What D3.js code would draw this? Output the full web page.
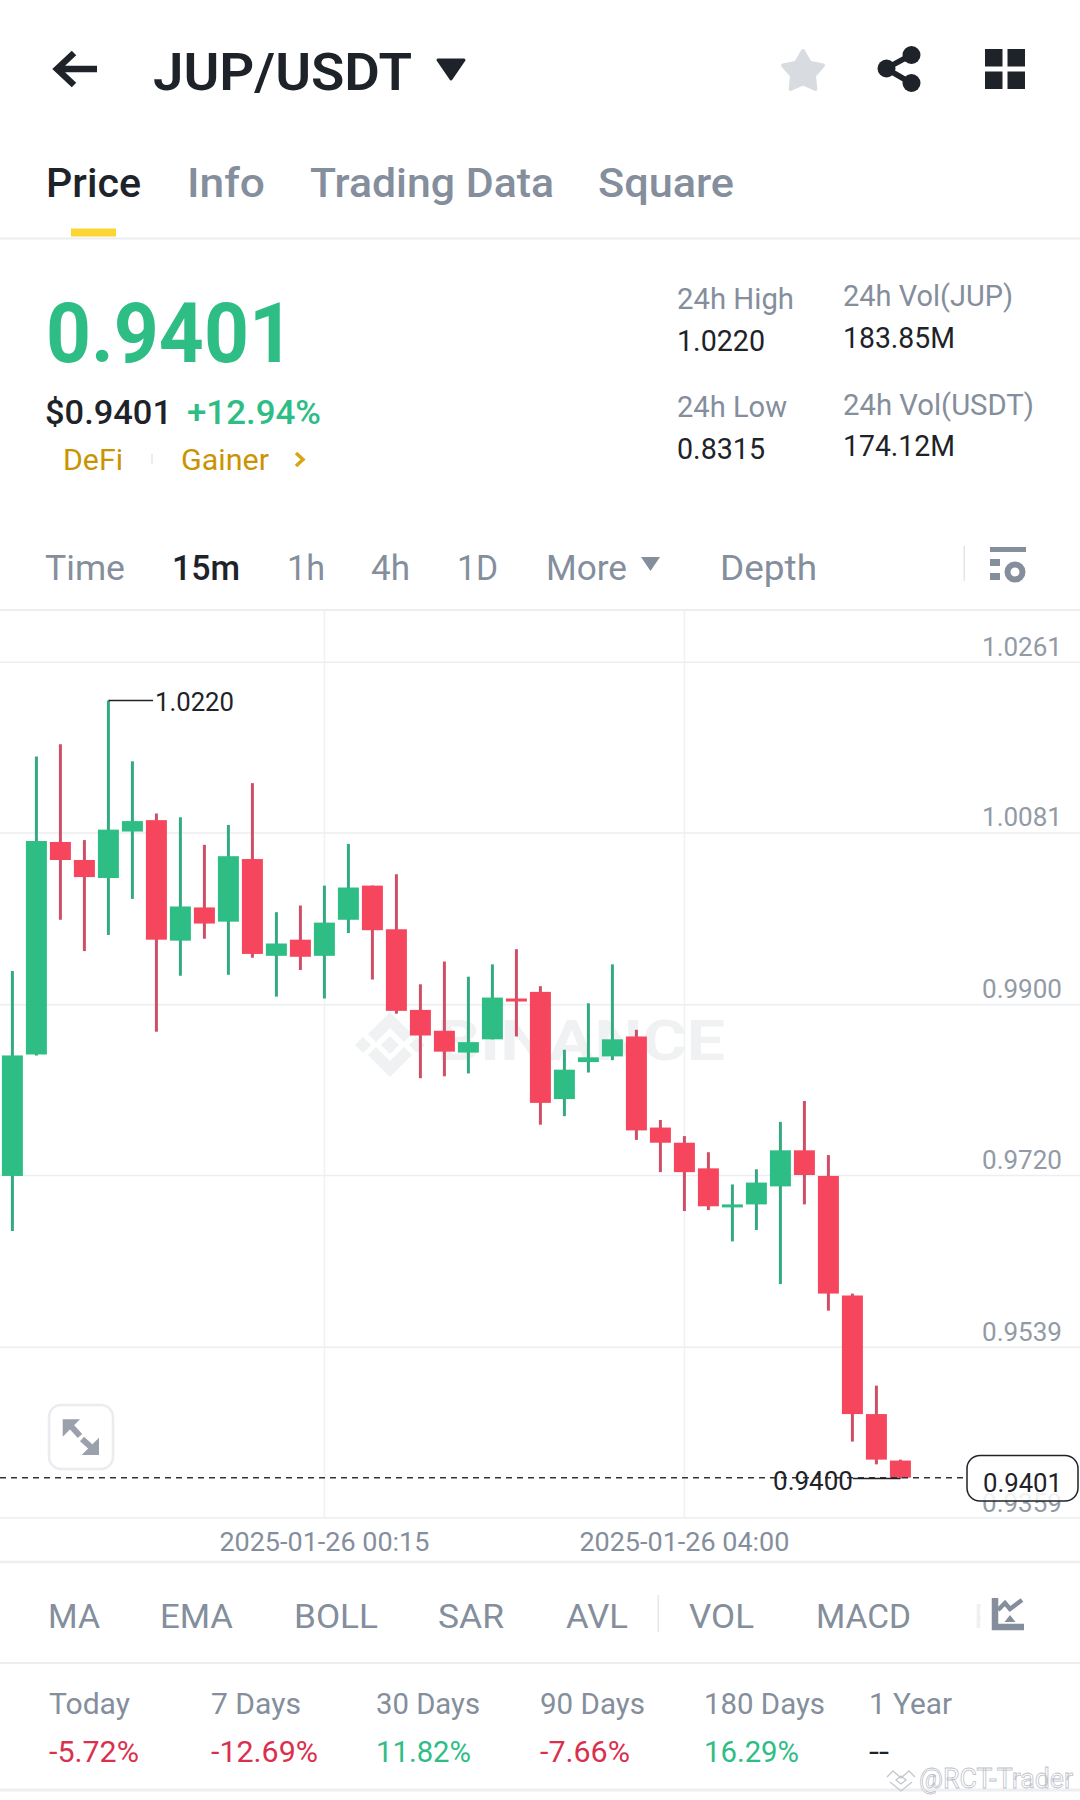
<!DOCTYPE html>
<html>
<head>
<meta charset="utf-8">
<script src="https://cdn.jsdelivr.net/npm/d3@7"></script>
<style>
  html, body { margin: 0; padding: 0; background: #fff; overflow: hidden; }
  text { font-family: Roboto, "Noto Sans", sans-serif; }
</style>
</head>
<body>
<div id="chart"></div>
<script>
// 15m candles, 2025-01-25 21:00 onwards
var opens  = [0.9719,0.9847,1.0071,1.0052,1.0033,1.0082,1.0094,0.9967,1.0002,0.9987,1.0053,0.9951,0.9968,0.9951,0.9989,1.0025,0.9979,0.9894,0.9872,0.9849,0.9863,0.9906,0.9913,0.9800,0.9839,0.9845,0.9866,0.9770,0.9754,0.9727,0.9686,0.9689,0.9708,0.9746,0.9719,0.9593,0.9468,0.9419];
var closes = [0.9846,1.0072,1.0052,1.0034,1.0084,1.0093,0.9968,1.0003,0.9985,1.0056,0.9953,0.9964,0.9950,0.9986,1.0023,0.9978,0.9893,0.9867,0.9850,0.9860,0.9907,0.9903,0.9796,0.9831,0.9844,0.9863,0.9767,0.9754,0.9723,0.9687,0.9689,0.9712,0.9746,0.9720,0.9595,0.9468,0.9420,0.9401];
var highs  = [0.9935,1.0161,1.0174,1.0073,1.0220,1.0156,1.0101,1.0097,1.0068,1.0089,1.0133,0.9997,1.0004,1.0025,1.0069,1.0025,1.0037,0.9921,0.9945,0.9929,0.9942,0.9958,0.9919,0.9852,0.9901,0.9942,0.9873,0.9778,0.9761,0.9744,0.9710,0.9726,0.9776,0.9798,0.9741,0.9595,0.9498,0.9420];
var lows   = [0.9661,0.9846,0.9989,0.9956,0.9973,1.0011,0.9871,0.9930,0.9969,0.9931,0.9949,0.9908,0.9936,0.9906,0.9975,0.9926,0.9890,0.9822,0.9824,0.9827,0.9863,0.9866,0.9773,0.9782,0.9828,0.9841,0.9757,0.9723,0.9682,0.9683,0.9650,0.9662,0.9605,0.9689,0.9577,0.9439,0.9415,0.9400];

var priceTicks = [1.0261, 1.0081, 0.9900, 0.9720, 0.9539, 0.9359];
var timeTicks = [13, 28];
var timeTickLabels = ["2025-01-26 00:15", "2025-01-26 04:00"];
var highMark = 1.0220, lowMark = 0.9400, lastPrice = 0.9401;

var perfLabels = ["Today", "7 Days", "30 Days", "90 Days", "180 Days", "1 Year"];
var perfValues = ["-5.72%", "-12.69%", "11.82%", "-7.66%", "16.29%", "--"];

var width = 1080, height = 1800;
var green = "#2ebd85", red = "#f6465d", dark = "#1e2329", gray = "#848e9c", line = "#eceef1";

var svg = d3.select("#chart").append("svg")
    .attr("width", width)
    .attr("height", height)
    .style("display", "block");

function label(x, y, str, size, color, weight, w, anchor) {
  var t = svg.append("text")
      .attr("x", x)
      .attr("y", y)
      .attr("font-size", size)
      .attr("font-weight", weight || 400)
      .attr("fill", color)
      .attr("text-anchor", anchor || "start")
      .text(str);
  if (w) t.attr("textLength", w).attr("lengthAdjust", "spacingAndGlyphs");
  return t;
}

function hline(y, sw, x1, x2) {
  svg.append("line").attr("x1", x1 || 0).attr("x2", x2 || width)
      .attr("y1", y).attr("y2", y)
      .attr("stroke", line).attr("stroke-width", sw || 2);
}

// header
svg.append("path")
    .attr("d", "M97 69H58M74 53L57 69L74 85")
    .attr("fill", "none").attr("stroke", dark).attr("stroke-width", 6.5);
label(153, 90, "JUP/USDT", 52, dark, 600, 259);
svg.append("path").attr("d", "M438 60H464L451 79Z").attr("fill", dark)
    .attr("stroke", dark).attr("stroke-width", 3).attr("stroke-linejoin", "round");
var starPoints = d3.range(10).map(function(i) {
  return [i * Math.PI / 5, i % 2 ? 11.5 : 21];
});
svg.append("path")
    .attr("d", d3.lineRadial()(starPoints) + "Z")
    .attr("transform", "translate(803,72)")
    .attr("fill", "#d8dbe0").attr("stroke", "#d8dbe0").attr("stroke-width", 4).attr("stroke-linejoin", "round");
svg.append("path").attr("d", "M911 55L886 68.5L911 83")
    .attr("fill", "none").attr("stroke", dark).attr("stroke-width", 5.5);
[[911.5, 55], [886.5, 68.5], [911.5, 83]].forEach(function(c) {
  svg.append("circle").attr("cx", c[0]).attr("cy", c[1]).attr("r", 9).attr("fill", dark);
});
[[985, 49], [1007.5, 49], [985, 71.5], [1007.5, 71.5]].forEach(function(c) {
  svg.append("rect").attr("x", c[0]).attr("y", c[1]).attr("width", 17.5).attr("height", 17.5).attr("fill", dark);
});

// tabs
label(46, 197, "Price", 40, dark, 500, 95);
label(187, 197, "Info", 40, gray, 500, 78);
label(310, 197, "Trading Data", 40, gray, 500, 244);
label(598, 197, "Square", 40, gray, 500, 136);
svg.append("rect").attr("x", 71).attr("y", 228.5).attr("width", 45).attr("height", 8).attr("fill", "#fcd535");
hline(238.5);

// price block
label(46, 362, "0.9401", 84, green, 700, 248);
label(45, 424, "$0.9401", 33, dark, 500, 127);
label(187, 424, "+12.94%", 33, green, 500, 134);
label(63, 470, "DeFi", 29, "#c99400", 400, 60);
svg.append("rect").attr("x", 151).attr("y", 454).attr("width", 2).attr("height", 10).attr("fill", "#eaecef");
label(181, 470, "Gainer", 29, "#c99400", 400, 88);
svg.append("path").attr("d", "M296 453L303 459.5L296 466")
    .attr("fill", "none").attr("stroke", "#d9a514").attr("stroke-width", 3.5);

label(677, 309, "24h High", 29, gray, 400, 117);
label(677, 351, "1.0220", 29, dark, 400, 88);
label(677, 417, "24h Low", 29, gray, 400, 110);
label(677, 459, "0.8315", 29, dark, 400, 88);
label(843, 306, "24h Vol(JUP)", 29, gray, 400, 170);
label(843, 347.5, "183.85M", 29, dark, 400, 112);
label(843, 415, "24h Vol(USDT)", 29, gray, 400, 191);
label(843, 455.5, "174.12M", 29, dark, 400, 112);

// interval row
label(45, 579.5, "Time", 35, gray, 400, 80);
label(172, 579.5, "15m", 35, dark, 500, 68);
label(287, 579.5, "1h", 35, gray, 400, 38);
label(371, 579.5, "4h", 35, gray, 400, 39);
label(457, 579.5, "1D", 35, gray, 400, 41);
label(546, 579.5, "More", 35, gray, 400, 81);
svg.append("path").attr("d", "M641 557H660L650.5 571Z").attr("fill", gray);
label(720, 579.5, "Depth", 35, gray, 400, 97);
svg.append("rect").attr("x", 963.5).attr("y", 546).attr("width", 1.5).attr("height", 35).attr("fill", "#e3e5e8");
svg.append("rect").attr("x", 990).attr("y", 547).attr("width", 36).attr("height", 5).attr("fill", gray);
svg.append("rect").attr("x", 990).attr("y", 559).attr("width", 10).attr("height", 7).attr("fill", gray);
svg.append("rect").attr("x", 990).attr("y", 573).attr("width", 10).attr("height", 7).attr("fill", gray);
svg.append("circle").attr("cx", 1015).attr("cy", 572).attr("r", 7.5)
    .attr("fill", "#fff").attr("stroke", gray).attr("stroke-width", 6);
hline(610);

// chart
var x = d3.scaleBand()
    .domain(d3.range(opens.length))
    .range([0.4, 912.4])
    .paddingInner(0.125)
    .paddingOuter(0.0625);

var y = d3.scaleLinear()
    .domain([priceTicks[5], priceTicks[0]])
    .range([1517.5, 661.7]);

function cx(i) { return x(i) + x.bandwidth() / 2; }

var xAxis = d3.axisBottom(x)
    .tickValues(timeTicks)
    .tickSize(1518 - 610)
    .tickPadding(0)
    .tickFormat(function(d) { return timeTickLabels[timeTicks.indexOf(d)]; });

var yAxis = d3.axisRight(y)
    .tickValues(priceTicks)
    .tickSize(width)
    .tickFormat(d3.format(".4f"));

var gx = svg.append("g")
    .attr("class", "x axis")
    .attr("transform", "translate(0,610)")
    .call(xAxis);
gx.select(".domain").remove();
gx.selectAll("line").attr("stroke", "#f0f1f3").attr("stroke-width", 1.5);
gx.selectAll("text")
    .attr("y", 1551 - 610)
    .attr("dy", 0)
    .attr("font-family", "Roboto")
    .attr("font-size", 25)
    .attr("fill", gray)
    .attr("textLength", 210)
    .attr("lengthAdjust", "spacingAndGlyphs");

var gy = svg.append("g")
    .attr("class", "y axis")
    .call(yAxis);
gy.select(".domain").remove();
gy.selectAll("line").attr("stroke", line).attr("stroke-width", 1.5);
gy.selectAll("text")
    .attr("x", 1062)
    .attr("dy", -6.5)
    .attr("text-anchor", "end")
    .attr("font-family", "Roboto")
    .attr("font-size", 25)
    .attr("fill", "#929aa5")
    .attr("textLength", 80)
    .attr("lengthAdjust", "spacingAndGlyphs");

// background logo
var logo = svg.append("g").attr("fill", "#eff1f2");
logo.append("path").attr("d", "M390 1012L412 1034L404 1042L390 1028L376 1042L368 1034Z");
logo.append("path").attr("d", "M390 1077L412 1055L404 1047L390 1061L376 1047L368 1055Z");
logo.append("path").attr("d", "M390 1036L399 1045L390 1054L381 1045Z");
logo.append("path").attr("d", "M363 1037L371 1045L363 1053L355 1045Z");
logo.append("path").attr("d", "M417 1037L425 1045L417 1053L409 1045Z");
label(437, 1060, "BINANCE", 56, "#eff1f2", 700, 288);

var wickColor = { up: "#35a97f", down: "#cf4f68" };

function isUp(i) { return closes[i] >= opens[i]; }

svg.append("g").selectAll("line")
    .data(d3.range(opens.length))
  .enter().append("line")
    .attr("x1", cx)
    .attr("x2", cx)
    .attr("y1", function(i) { return y(highs[i]); })
    .attr("y2", function(i) { return y(lows[i]); })
    .attr("stroke-width", 3)
    .attr("stroke", function(i) { return isUp(i) ? wickColor.up : wickColor.down; });

svg.append("g").selectAll("rect")
    .data(d3.range(opens.length))
  .enter().append("rect")
    .attr("x", function(i) { return x(i); })
    .attr("width", x.bandwidth())
    .attr("y", function(i) { return y(Math.max(opens[i], closes[i])); })
    .attr("height", function(i) { return Math.max(Math.abs(y(opens[i]) - y(closes[i])), 3); })
    .attr("fill", function(i) { return isUp(i) ? green : red; });

// high / low marks
var hi = highs.indexOf(highMark), lo = lows.indexOf(lowMark);
svg.append("line").attr("x1", cx(hi)).attr("x2", 153)
    .attr("y1", y(highMark)).attr("y2", y(highMark))
    .attr("stroke", dark).attr("stroke-width", 1.5);
label(155, 710.5, d3.format(".4f")(highMark), 25, dark, 400, 79);

// last price
svg.append("line").attr("x1", 0).attr("x2", 967)
    .attr("y1", y(lastPrice)).attr("y2", y(lastPrice))
    .attr("stroke", "#333").attr("stroke-width", 1.5).attr("stroke-dasharray", "6 5");
svg.append("line").attr("x1", 853).attr("x2", cx(lo))
    .attr("y1", y(lowMark)).attr("y2", y(lowMark))
    .attr("stroke", dark).attr("stroke-width", 1.5);
label(773, 1489.5, d3.format(".4f")(lowMark), 25, dark, 400, 80);
svg.append("rect").attr("x", 967).attr("y", 1455.5).attr("width", 111).attr("height", 45.5).attr("rx", 13)
    .attr("fill", "#fff").attr("fill-opacity", 0.85).attr("stroke", dark).attr("stroke-width", 1.5);
label(983, 1491.5, d3.format(".4f")(lastPrice), 25, dark, 400, 79);

// expand button
svg.append("rect").attr("x", 49).attr("y", 1405).attr("width", 64).attr("height", 64).attr("rx", 12)
    .attr("fill", "#fff").attr("stroke", "#eaecef").attr("stroke-width", 2.5);
svg.append("path").attr("d", "M70 1425L80 1436M92 1448L82 1439")
    .attr("stroke", "#9aa1ac").attr("stroke-width", 6).attr("fill", "none");
svg.append("path").attr("d", "M62.7 1419.3H80L62.7 1436.7ZM99 1455H81.7L99 1437.7Z").attr("fill", "#9aa1ac");

hline(1562, 2.5);

// indicator row
label(48, 1628, "MA", 33, gray, 400, 52);
label(160, 1628, "EMA", 33, gray, 400, 73);
label(294, 1628, "BOLL", 33, gray, 400, 84);
label(438, 1628, "SAR", 33, gray, 400, 66);
label(566, 1628, "AVL", 33, gray, 400, 62);
svg.append("rect").attr("x", 657.5).attr("y", 1595).attr("width", 1.5).attr("height", 37).attr("fill", "#e6e8ea");
label(689, 1628, "VOL", 33, gray, 400, 65);
label(816, 1628, "MACD", 33, gray, 400, 95);
label(974, 1628, "R", 33, "#eef0f2", 400);
svg.append("rect").attr("x", 981).attr("y", 1592).attr("width", 50).attr("height", 44).attr("fill", "#fff");
svg.append("path").attr("d", "M995 1598V1627H1024")
    .attr("fill", "none").attr("stroke", gray).attr("stroke-width", 6.5);
svg.append("path").attr("d", "M998 1610L1005 1603L1010 1609L1022 1600")
    .attr("fill", "none").attr("stroke", gray).attr("stroke-width", 4.5);
svg.append("path").attr("d", "M1010 1615L1015.5 1622H1004.5Z").attr("fill", gray);
hline(1663, 2);

// performance row
var perfX = [49, 211, 376, 540, 704, 869];
var perfLabelW = [81, 90, 104, 105, 121, 83];
var perfValueW = [90, 107, 95, 90, 95, 20];
perfLabels.forEach(function(s, i) {
  label(perfX[i], 1713.5, s, 29, gray, 400, perfLabelW[i]);
});
perfValues.forEach(function(s, i) {
  var c = s === "--" ? dark : (s.charAt(0) === "-" ? "#d9304e" : green);
  label(perfX[i], 1762, s, 29, c, 400, perfValueW[i]);
});
hline(1790, 3);

// bottom-right tag
svg.append("path").attr("d", "M887 1777L893 1771L901 1778L909 1771L915 1777M890 1782L901 1791L912 1782M896 1780L901 1776L906 1780L901 1784Z")
    .attr("fill", "none").attr("stroke", "#c4c8ce").attr("stroke-width", 1.3);
label(919, 1788, "@RCT-Trader", 28, "#fff", 400, 154)
    .attr("stroke", "#bcc1c8").attr("stroke-width", 0.8);
</script>
</body>
</html>
